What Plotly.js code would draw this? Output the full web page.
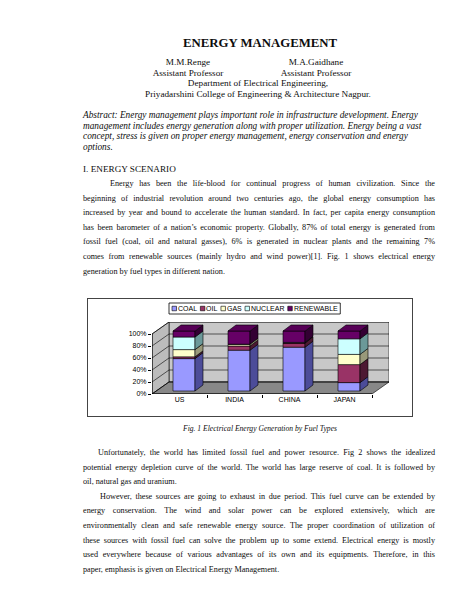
<!DOCTYPE html>
<html>
<head>
<meta charset="utf-8">
<script src="https://cdn.plot.ly/plotly-3.0.1.min.js"></script>
<style>
  body { margin: 0; background: #fff; }
  #page { position: relative; width: 474px; height: 613px; overflow: hidden;
          font-family: "Liberation Serif", "Times New Roman", serif; color: #0d0d0d; }
  .blk { position: absolute; }
  .c { text-align: center; white-space: nowrap; }
  .j { text-align: justify; text-align-last: justify; }
  .l { text-align: left; white-space: nowrap; }
  #chart { position: absolute; left: 87px; top: 298px; width: 324px; height: 117px; border: 1px solid #444; }
</style>
</head>
<body>
<div id="page">
  <div class="blk c" style="left:58px;width:404px;top:36px;line-height:15px;font-size:12.8px;font-weight:bold;">ENERGY MANAGEMENT</div>

  <div class="blk c" style="left:128px;width:120px;top:57px;line-height:10.5px;font-size:9.2px;">M.M.Renge<br>Assistant Professor</div>
  <div class="blk c" style="left:256px;width:120px;top:57px;line-height:10.5px;font-size:9.2px;">M.A.Gaidhane<br>Assistant Professor</div>
  <div class="blk c" style="left:58px;width:400px;top:78px;line-height:10.5px;font-size:9.2px;">Department of Electrical Engineering,<br>Priyadarshini College of Engineering &amp; Architecture Nagpur.</div>

  <div class="blk l" style="left:83px;top:110px;line-height:10.5px;font-size:9.3px;font-style:italic;">
    Abstract: Energy management plays important role in infrastructure development. Energy<br>
    management includes energy generation along with proper utilization. Energy being a vast<br>
    concept, stress is given on proper energy management, energy conservation and energy<br>
    options.
  </div>

  <div class="blk l" style="left:83px;top:164px;line-height:10px;font-size:9.2px;">I. ENERGY SCENARIO</div>

  <div class="blk" style="left:83px;width:352px;top:177px;line-height:14.6px;font-size:8.2px;">
    <div class="j" style="padding-left:27px;">Energy has been the life-blood for continual progress of human civilization. Since the</div>
    <div class="j">beginning of industrial revolution around two centuries ago, the global energy consumption has</div>
    <div class="j">increased by year and bound to accelerate the human standard. In fact, per capita energy consumption</div>
    <div class="j">has been barometer of a nation’s economic property. Globally, 87% of total energy is generated from</div>
    <div class="j">fossil fuel (coal, oil and natural gasses), 6% is generated in nuclear plants and the remaining 7%</div>
    <div class="j">comes from renewable sources (mainly hydro and wind power)[1]. Fig. 1 shows electrical energy</div>
    <div class="l">generation by fuel types in different nation.</div>
  </div>

  <div id="chart"></div>

  <div class="blk c" style="left:60px;width:400px;top:424px;line-height:10px;font-size:7.6px;font-style:italic;">Fig. 1 Electrical Energy Generation by Fuel Types</div>

  <div class="blk" style="left:83px;width:352px;top:446px;line-height:14.6px;font-size:8.2px;">
    <div class="j" style="padding-left:15px;">Unfortunately, the world has limited fossil fuel and power resource. Fig 2 shows the idealized</div>
    <div class="j">potential energy depletion curve of the world. The world has large reserve of coal. It is followed by</div>
    <div class="l">oil, natural gas and uranium.</div>
    <div class="j" style="padding-left:17px;">However, these sources are going to exhaust in due period. This fuel curve can be extended by</div>
    <div class="j">energy conservation. The wind and solar power can be explored extensively, which are</div>
    <div class="j">environmentally clean and safe renewable energy source. The proper coordination of utilization of</div>
    <div class="j">these sources with fossil fuel can solve the problem up to some extend. Electrical energy is mostly</div>
    <div class="j">used everywhere because of various advantages of its own and its equipments. Therefore, in this</div>
    <div class="l">paper, emphasis is given on Electrical Energy Management.</div>
  </div>
</div>

<script>
// values (percent of generation)
const categories = ['US', 'INDIA', 'CHINA', 'JAPAN'];
const seriesNames = ['COAL', 'OIL', 'GAS', 'NUCLEAR', 'RENEWABLE'];
const coal = [54, 68, 73, 14];
const oil = [3, 7, 7, 30];
const gas = [12, 3, 0, 17];
const nuclear = [21, 0, 1, 26];
const renewable = [10, 22, 19, 13];
const yTicks = [0, 20, 40, 60, 80, 100];

const frontColors = ['#9999ff', '#993366', '#ffffcc', '#ccffff', '#660066'];
const sideColors = ['#4c4c99', '#4d1933', '#99997a', '#6b9999', '#330033'];
const topColor = '#570057';

// plot area inside the chart box, in px
const W = 324, H = 117;
const M = { l: 64, r: 23, t: 23, b: 22 };
const PW = W - M.l - M.r, PH = H - M.t - M.b;

// 3d depth: the walls and the columns, in px
const wallDx = 17, wallDy = 12;
const barDx = 8, barDy = 6;
const catPx = (PW - wallDx) / 4;          // px per category
const pctPx = (PH - wallDy) / 100;        // px per percent
const DX = wallDx / catPx, DY = wallDy / pctPx;
const bdx = barDx / catPx, bdy = barDy / pctPx;
const ox = (wallDx - barDx) / 2 / catPx, oy = (wallDy - barDy) / 2 / pctPx;
const barW = 0.4;
const x0 = -0.5, x1 = 3.5;

const series = [coal, oil, gas, nuclear, renewable];
const traces = [];
const sides = [];
const cum = categories.map(() => oy);

series.forEach((vals, s) => {
  const base = cum.slice();
  traces.push({
    type: 'bar',
    name: seriesNames[s],
    x: categories.map((c, i) => i + ox),
    y: vals,
    base: base,
    width: barW,
    marker: { color: frontColors[s], line: { color: '#000', width: 0.6 } },
    hoverinfo: 'skip'
  });
  const sx = [], sy = [];
  vals.forEach((v, i) => {
    if (v <= 0) return;
    const xr = i + ox + barW / 2;
    sx.push(xr, xr + bdx, xr + bdx, xr, xr, null);
    sy.push(base[i], base[i] + bdy, base[i] + v + bdy, base[i] + v, base[i], null);
  });
  sides.push({
    type: 'scatter', mode: 'lines', x: sx, y: sy, fill: 'toself',
    fillcolor: sideColors[s], line: { color: '#000', width: 0.6 }, hoverinfo: 'skip'
  });
  vals.forEach((v, i) => { cum[i] += v; });
});

// top faces of the columns
const tx = [], ty = [];
cum.forEach((top, i) => {
  const xl = i + ox - barW / 2, xr = i + ox + barW / 2;
  tx.push(xl, xr, xr + bdx, xl + bdx, xl, null);
  ty.push(top, top, top + bdy, top + bdy, top, null);
});
sides.push({
  type: 'scatter', mode: 'lines', x: tx, y: ty, fill: 'toself',
  fillcolor: topColor, line: { color: '#000', width: 0.6 }, hoverinfo: 'skip'
});

// walls, floor and grid
const P = (x, y) => x + ',' + y;
const shapes = [
  { type: 'rect', layer: 'below', x0: x0 + DX, x1: x1 + DX, y0: DY, y1: 100 + DY,
    fillcolor: '#c8c8c8', line: { color: '#000', width: 0.6 } },
  { type: 'path', layer: 'below',
    path: 'M' + P(x0, 0) + 'L' + P(x0 + DX, DY) + 'L' + P(x0 + DX, 100 + DY) + 'L' + P(x0, 100) + 'Z',
    fillcolor: '#bcbcbc', line: { color: '#000', width: 0.6 } },
  { type: 'path', layer: 'below',
    path: 'M' + P(x0, 0) + 'L' + P(x1, 0) + 'L' + P(x1 + DX, DY) + 'L' + P(x0 + DX, DY) + 'Z',
    fillcolor: '#888888', line: { color: '#000', width: 0.6 } }
];
yTicks.forEach(v => {
  shapes.push({ type: 'line', layer: 'below', x0: x0 + DX, x1: x1 + DX, y0: v + DY, y1: v + DY,
    line: { color: '#000', width: 0.6 } });
  shapes.push({ type: 'line', layer: 'below', x0: x0, x1: x0 + DX, y0: v, y1: v + DY,
    line: { color: '#000', width: 0.6 } });
});
shapes.push({ type: 'line', x0: x0, x1: x0, y0: 0, y1: 100, line: { color: '#000', width: 1 } });
shapes.push({ type: 'line', x0: x0, x1: x1, y0: 0, y1: 0, line: { color: '#000', width: 1 } });

// legend drawn by hand, plotly's own legend is too wide for this box
const fontFam = '"Liberation Sans", Arial, sans-serif';
const fontSize = 7;
const ctx = document.createElement('canvas').getContext('2d');
ctx.font = fontSize + 'px ' + fontFam;
const px2x = px => (px - M.l) / PW;
const px2y = py => (H - M.b - py) / PH;
const annotations = [];
const legTop = 4, legBot = 15, legMid = (legTop + legBot) / 2;
let lx = 84;
seriesNames.forEach((name, s) => {
  shapes.push({ type: 'rect', xref: 'paper', yref: 'paper', layer: 'above',
    x0: px2x(lx), x1: px2x(lx + 4.5), y0: px2y(legMid + 2.25), y1: px2y(legMid - 2.25),
    fillcolor: frontColors[s], line: { color: '#000', width: 0.6 } });
  annotations.push({ xref: 'paper', yref: 'paper', x: px2x(lx + 5), y: px2y(legMid),
    xanchor: 'left', yanchor: 'middle', showarrow: false, text: name, borderpad: 0,
    font: { family: fontFam, size: fontSize, color: '#000' } });
  lx += 5.5 + ctx.measureText(name).width + 3.8;
});
shapes.push({ type: 'rect', xref: 'paper', yref: 'paper', layer: 'above',
  x0: px2x(81), x1: px2x(lx - 0.5), y0: px2y(legBot), y1: px2y(legTop),
  fillcolor: 'rgba(0,0,0,0)', line: { color: '#000', width: 0.8 } });

const layout = {
  width: W, height: H,
  margin: M,
  paper_bgcolor: '#fff',
  plot_bgcolor: 'rgba(0,0,0,0)',
  showlegend: false,
  barmode: 'overlay',
  font: { family: fontFam, size: fontSize, color: '#000' },
  xaxis: {
    range: [x0, x1 + DX],
    tickvals: [0, 1, 2, 3],
    ticktext: categories,
    ticks: '',
    showgrid: false, zeroline: false, showline: false,
    tickfont: { family: fontFam, size: fontSize, color: '#000' },
    minor: { tickmode: 'array', tickvals: [0.5, 1.5, 2.5, 3.5], ticks: 'outside', ticklen: 3, tickcolor: '#000', showgrid: false },
    fixedrange: true
  },
  yaxis: {
    range: [0, 100 + DY],
    tickvals: yTicks,
    ticktext: yTicks.map(v => v + '%'),
    ticks: 'outside', ticklen: 3, tickcolor: '#000',
    showgrid: false, zeroline: false, showline: false,
    tickfont: { family: fontFam, size: fontSize, color: '#000' },
    fixedrange: true
  },
  shapes: shapes,
  annotations: annotations
};

Plotly.newPlot('chart', traces.concat(sides), layout, { displayModeBar: false, staticPlot: true });
</script>
</body>
</html>
